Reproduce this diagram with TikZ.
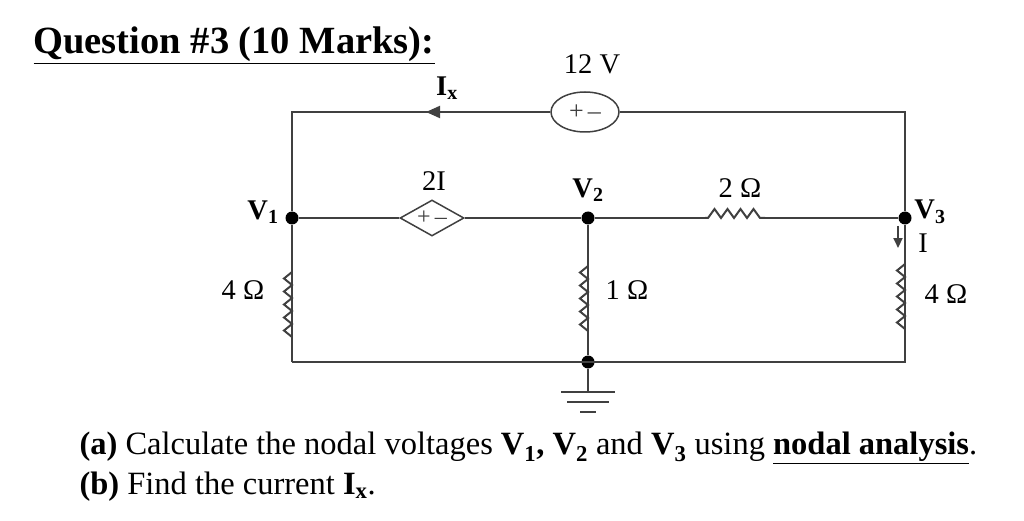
\documentclass[tikz,border=0pt]{standalone}
\usepackage{fontspec}
\setmainfont{Liberation Serif}
\usetikzlibrary{shapes.geometric,arrows.meta}
\tikzset{wire/.style={line width=2pt,black!75},
  dot/.style={circle,fill=black,inner sep=0pt,minimum size=13pt},
  lbl/.style={font=\fontsize{28.5}{30}\selectfont}}
\begin{document}
\begin{tikzpicture}[x=1pt,y=-1pt]
\useasboundingbox (0,0) rectangle (1024,521);
%================================================================
%	Nodes
\node[dot] (v1) at (292,218) {};
\node[dot] (v2) at (588,218) {};
\node[dot] (v3) at (905,218) {};
\node[dot] (g) at (588,362) {};
\coordinate (tl) at (292,112);
\coordinate (tr) at (905,112);
\coordinate (bl) at (292,362);
\coordinate (br) at (905,362);
\node[ellipse,draw,black!75,line width=1.5pt,minimum width=68pt,minimum height=40pt,inner sep=0pt,font=\fontsize{26}{28}\selectfont] (src) at (585,112) {+\,--};
\node[diamond,draw,black!75,line width=1.5pt,minimum width=64pt,minimum height=36pt,inner sep=0pt,aspect=1.8,font=\fontsize{24}{26}\selectfont] (dep) at (432,218) {+\,--};
%================================================================
%	Wires
\draw[wire] (bl) -- (v1) -- (tl) -- (src) -- (tr) -- (v3) -- (br) -- (bl);
\draw[wire] (v1) -- (dep) -- (v2) -- (705,218);
\draw[wire] (765,218) -- (v3);
\draw[wire] (705,218) -- ++(3,0) \foreach \i in {1,...,4}{ -- ++(6.5,-9) -- ++(6.5,9)} -- (765,218);
\draw[wire] (v2) -- (g);
\draw[wire] (292,272) \foreach \i in {1,...,5}{ -- ++(-8,6.5) -- ++(8,6.5)};
\draw[wire] (588,266) \foreach \i in {1,...,5}{ -- ++(-8,6.5) -- ++(8,6.5)};
\draw[wire] (905,264) \foreach \i in {1,...,5}{ -- ++(-8,6.5) -- ++(8,6.5)};
\draw[wire,-{Triangle[length=14pt,width=12pt]}] (452,112) -- (426,112);
\draw[wire,-{Triangle[length=10pt,width=9pt]}] (898,226) -- (898,248);
%	Ground
\draw[wire] (g) -- (588,392);
\draw[wire] (561,392) -- (615,392);
\draw[wire] (567,402) -- (609,402);
\draw[wire] (580,412) -- (596,412);
%================================================================
%	Labels
\node[lbl] at (592,64) {12 V};
\node[lbl] at (447,88) {\textbf{I\textsubscript{x}}};
\node[lbl] at (434,181) {2I};
\node[lbl] at (263,212) {\textbf{V\textsubscript{1}}};
\node[lbl] at (588,190) {\textbf{V\textsubscript{2}}};
\node[lbl] at (930,212) {\textbf{V\textsubscript{3}}};
\node[lbl] at (923,243) {I};
\node[lbl] at (740,188) {2 Ω};
\node[lbl] at (243,290) {4 Ω};
\node[lbl] at (627,290) {1 Ω};
\node[lbl] at (946,294) {4 Ω};
\node[anchor=west,font=\fontsize{38.5}{40}\selectfont] at (30,45) {\textbf{\underline{Question \#3 (10 Marks):}}};
\node[anchor=west,font=\fontsize{32.5}{34}\selectfont] at (76,448) {\textbf{(a)} Calculate the nodal voltages \textbf{V\textsubscript{1}, V\textsubscript{2}} and \textbf{V\textsubscript{3}} using \textbf{\underline{nodal analysis}}.};
\node[anchor=west,font=\fontsize{32.5}{34}\selectfont] at (76,487) {\textbf{(b)} Find the current \textbf{I\textsubscript{x}}.};
\end{tikzpicture}
\end{document}
